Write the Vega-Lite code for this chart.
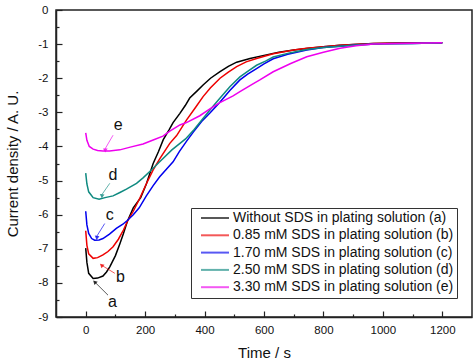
{
  "$schema": "https://vega.github.io/schema/vega-lite/v6.json",
  "width": 416,
  "height": 307,
  "autosize": {"type": "none"},
  "padding": {"left": 56, "top": 10, "right": 2, "bottom": 46},
  "background": "white",
  "config": {
    "font": "Liberation Sans",
    "view": {"stroke": "#222", "strokeWidth": 1.5},
    "axis": {
      "domainColor": "#222", "domainWidth": 1.5, "tickColor": "#222", "tickWidth": 1.2,
      "labelFont": "Liberation Sans", "labelFontSize": 11.5, "labelColor": "#111",
      "titleFont": "Liberation Sans", "titleFontSize": 15, "titleFontWeight": "normal", "titleColor": "#111",
      "grid": false, "labelOverlap": false, "labelFlush": false
    }
  },
  "resolve": {"axis": {"x": "independent", "y": "independent"}},
  "datasets": {
    "names": [
      {"s": "a", "name": "Without SDS in plating solution (a)"},
      {"s": "b", "name": "0.85 mM SDS in plating solution (b)"},
      {"s": "c", "name": "1.70 mM SDS in plating solution (c)"},
      {"s": "d", "name": "2.50 mM SDS in plating solution (d)"},
      {"s": "e", "name": "3.30 mM SDS in plating solution (e)"}
    ],
    "arrows": [
      {"s": "a", "tt": 75, "ty": -8.36, "ht": 30, "hy": -7.97, "lt": 90, "ly": -8.55},
      {"s": "b", "tt": 98, "ty": -7.72, "ht": 53, "hy": -7.48, "lt": 117, "ly": -7.83},
      {"s": "c", "tt": 64, "ty": -6.26, "ht": 36, "hy": -6.65, "lt": 81, "ly": -6.01},
      {"s": "d", "tt": 81, "ty": -5.08, "ht": 53, "hy": -5.43, "lt": 92, "ly": -4.84},
      {"s": "e", "tt": 92, "ty": -3.67, "ht": 64, "hy": -4.09, "lt": 109, "ly": -3.37}
    ],
    "curves": [
      {"s":"a","t":0,"v":-6.98},{"s":"a","t":4,"v":-7.4},{"s":"a","t":10,"v":-7.72},{"s":"a","t":25,"v":-7.87},{"s":"a","t":40,"v":-7.86},{"s":"a","t":58,"v":-7.8},{"s":"a","t":70,"v":-7.68},{"s":"a","t":81,"v":-7.53},{"s":"a","t":100,"v":-7.2},{"s":"a","t":115,"v":-6.85},{"s":"a","t":127,"v":-6.55},{"s":"a","t":140,"v":-6.2},{"s":"a","t":160,"v":-5.8},{"s":"a","t":185,"v":-5.5},{"s":"a","t":204,"v":-5.1},{"s":"a","t":227,"v":-4.5},{"s":"a","t":245,"v":-4.15},{"s":"a","t":261,"v":-3.8},{"s":"a","t":280,"v":-3.52},{"s":"a","t":294,"v":-3.3},{"s":"a","t":317,"v":-3.03},{"s":"a","t":335,"v":-2.8},{"s":"a","t":350,"v":-2.58},{"s":"a","t":375,"v":-2.37},{"s":"a","t":395,"v":-2.2},{"s":"a","t":420,"v":-2.0},{"s":"a","t":452,"v":-1.81},{"s":"a","t":480,"v":-1.65},{"s":"a","t":508,"v":-1.53},{"s":"a","t":553,"v":-1.42},{"s":"a","t":600,"v":-1.33},{"s":"a","t":650,"v":-1.24},{"s":"a","t":700,"v":-1.17},{"s":"a","t":750,"v":-1.12},{"s":"a","t":800,"v":-1.08},{"s":"a","t":856,"v":-1.03},{"s":"a","t":900,"v":-1.01},{"s":"a","t":968,"v":-0.98},{"s":"a","t":1050,"v":-0.97},{"s":"a","t":1200,"v":-0.96},
      {"s":"b","t":0,"v":-6.47},{"s":"b","t":4,"v":-6.9},{"s":"b","t":10,"v":-7.15},{"s":"b","t":25,"v":-7.28},{"s":"b","t":40,"v":-7.26},{"s":"b","t":58,"v":-7.18},{"s":"b","t":75,"v":-7.08},{"s":"b","t":92,"v":-6.94},{"s":"b","t":110,"v":-6.72},{"s":"b","t":127,"v":-6.45},{"s":"b","t":140,"v":-6.2},{"s":"b","t":160,"v":-5.9},{"s":"b","t":182,"v":-5.52},{"s":"b","t":205,"v":-5.08},{"s":"b","t":227,"v":-4.69},{"s":"b","t":250,"v":-4.35},{"s":"b","t":283,"v":-3.91},{"s":"b","t":306,"v":-3.68},{"s":"b","t":339,"v":-3.23},{"s":"b","t":370,"v":-2.85},{"s":"b","t":395,"v":-2.54},{"s":"b","t":420,"v":-2.28},{"s":"b","t":452,"v":-2.0},{"s":"b","t":480,"v":-1.82},{"s":"b","t":508,"v":-1.66},{"s":"b","t":540,"v":-1.52},{"s":"b","t":575,"v":-1.42},{"s":"b","t":631,"v":-1.28},{"s":"b","t":700,"v":-1.17},{"s":"b","t":744,"v":-1.12},{"s":"b","t":800,"v":-1.08},{"s":"b","t":856,"v":-1.03},{"s":"b","t":968,"v":-0.98},{"s":"b","t":1100,"v":-0.97},{"s":"b","t":1200,"v":-0.96},
      {"s":"c","t":0,"v":-5.9},{"s":"c","t":4,"v":-6.3},{"s":"c","t":10,"v":-6.55},{"s":"c","t":20,"v":-6.7},{"s":"c","t":30,"v":-6.75},{"s":"c","t":45,"v":-6.74},{"s":"c","t":58,"v":-6.7},{"s":"c","t":80,"v":-6.57},{"s":"c","t":103,"v":-6.4},{"s":"c","t":125,"v":-6.28},{"s":"c","t":140,"v":-6.17},{"s":"c","t":160,"v":-6.0},{"s":"c","t":180,"v":-5.8},{"s":"c","t":204,"v":-5.45},{"s":"c","t":227,"v":-5.15},{"s":"c","t":249,"v":-4.89},{"s":"c","t":270,"v":-4.68},{"s":"c","t":294,"v":-4.45},{"s":"c","t":315,"v":-4.15},{"s":"c","t":339,"v":-3.85},{"s":"c","t":362,"v":-3.58},{"s":"c","t":390,"v":-3.27},{"s":"c","t":418,"v":-3.02},{"s":"c","t":450,"v":-2.72},{"s":"c","t":485,"v":-2.36},{"s":"c","t":519,"v":-2.05},{"s":"c","t":545,"v":-1.88},{"s":"c","t":575,"v":-1.72},{"s":"c","t":600,"v":-1.58},{"s":"c","t":631,"v":-1.43},{"s":"c","t":680,"v":-1.3},{"s":"c","t":744,"v":-1.17},{"s":"c","t":800,"v":-1.1},{"s":"c","t":856,"v":-1.06},{"s":"c","t":920,"v":-1.02},{"s":"c","t":1000,"v":-0.99},{"s":"c","t":1100,"v":-0.98},{"s":"c","t":1200,"v":-0.96},
      {"s":"d","t":0,"v":-4.78},{"s":"d","t":4,"v":-5.1},{"s":"d","t":10,"v":-5.33},{"s":"d","t":25,"v":-5.5},{"s":"d","t":45,"v":-5.55},{"s":"d","t":65,"v":-5.5},{"s":"d","t":92,"v":-5.45},{"s":"d","t":115,"v":-5.35},{"s":"d","t":137,"v":-5.25},{"s":"d","t":171,"v":-5.08},{"s":"d","t":193,"v":-4.92},{"s":"d","t":221,"v":-4.69},{"s":"d","t":249,"v":-4.45},{"s":"d","t":290,"v":-4.1},{"s":"d","t":336,"v":-3.78},{"s":"d","t":365,"v":-3.5},{"s":"d","t":390,"v":-3.23},{"s":"d","t":418,"v":-2.93},{"s":"d","t":450,"v":-2.6},{"s":"d","t":485,"v":-2.25},{"s":"d","t":519,"v":-1.96},{"s":"d","t":545,"v":-1.8},{"s":"d","t":575,"v":-1.62},{"s":"d","t":605,"v":-1.5},{"s":"d","t":631,"v":-1.38},{"s":"d","t":690,"v":-1.25},{"s":"d","t":744,"v":-1.16},{"s":"d","t":800,"v":-1.1},{"s":"d","t":856,"v":-1.06},{"s":"d","t":920,"v":-1.02},{"s":"d","t":1000,"v":-0.99},{"s":"d","t":1100,"v":-0.98},{"s":"d","t":1200,"v":-0.96},
      {"s":"e","t":0,"v":-3.6},{"s":"e","t":4,"v":-3.82},{"s":"e","t":12,"v":-4.0},{"s":"e","t":25,"v":-4.08},{"s":"e","t":40,"v":-4.12},{"s":"e","t":58,"v":-4.13},{"s":"e","t":80,"v":-4.13},{"s":"e","t":115,"v":-4.1},{"s":"e","t":150,"v":-4.02},{"s":"e","t":193,"v":-3.93},{"s":"e","t":227,"v":-3.81},{"s":"e","t":260,"v":-3.7},{"s":"e","t":283,"v":-3.55},{"s":"e","t":317,"v":-3.37},{"s":"e","t":339,"v":-3.3},{"s":"e","t":384,"v":-3.1},{"s":"e","t":418,"v":-2.9},{"s":"e","t":450,"v":-2.72},{"s":"e","t":496,"v":-2.52},{"s":"e","t":519,"v":-2.39},{"s":"e","t":560,"v":-2.18},{"s":"e","t":586,"v":-2.05},{"s":"e","t":631,"v":-1.81},{"s":"e","t":690,"v":-1.57},{"s":"e","t":744,"v":-1.37},{"s":"e","t":800,"v":-1.24},{"s":"e","t":856,"v":-1.12},{"s":"e","t":910,"v":-1.05},{"s":"e","t":968,"v":-1.0},{"s":"e","t":1050,"v":-0.98},{"s":"e","t":1200,"v":-0.96}
    ]
  },
  "layer": [
    {
      "data": {"name": "curves"},
      "transform": [{"lookup": "s", "from": {"data": {"name": "names"}, "key": "s", "fields": ["name"]}}],
      "mark": {"type": "line", "strokeWidth": 1.5, "interpolate": "linear"},
      "encoding": {
        "x": {"field": "t", "type": "quantitative",
          "scale": {"domain": [-100, 1300], "nice": false, "zero": false},
          "axis": {"title": "Time / s", "orient": "bottom", "values": [0,200,400,600,800,1000,1200],
            "labelExpr": "'' + datum.value",
            "tickSize": -6, "labelOverlap": false,
            "labelPadding": 13, "titlePadding": 10}},
        "y": {"field": "v", "type": "quantitative",
          "scale": {"domain": [-9, 0], "nice": false, "zero": false},
          "axis": {"title": "Current density / A. U.", "orient": "left", "values": [-9,-8,-7,-6,-5,-4,-3,-2,-1,0],
            "labelExpr": "'' + datum.value",
            "tickSize": -6, "labelOverlap": false,
            "labelPadding": 14, "titlePadding": 17.5}},
        "color": {"field": "name", "type": "nominal",
          "scale": {"domain": ["Without SDS in plating solution (a)", "0.85 mM SDS in plating solution (b)", "1.70 mM SDS in plating solution (c)", "2.50 mM SDS in plating solution (d)", "3.30 mM SDS in plating solution (e)"],
            "range": ["#000000", "#ee0000", "#0000ee", "#0f8a80", "#ee00ee"]},
          "legend": {"title": null, "orient": "none", "legendX": 135, "legendY": 198,
            "symbolType": "M0,0H5.6", "symbolSize": 100, "symbolStrokeWidth": 2,
            "labelFont": "Liberation Sans", "labelFontSize": 14, "labelColor": "#111", "labelLimit": 320,
            "strokeColor": "#333", "fillColor": "white", "padding": 3, "rowPadding": 3.3, "labelOffset": 25}},
        "detail": {"field": "s"}
      }
    },
    {
      "data": {"name": "arrows"},
      "transform": [{"lookup": "s", "from": {"data": {"name": "names"}, "key": "s", "fields": ["name"]}}],
      "mark": {"type": "rule", "strokeWidth": 1, "opacity": 0.65},
      "encoding": {
        "x": {"field": "tt", "type": "quantitative", "axis": null},
        "y": {"field": "ty", "type": "quantitative", "axis": null},
        "x2": {"field": "ht"},
        "y2": {"field": "hy"},
        "color": {"field": "name", "type": "nominal"}
      }
    },
    {
      "data": {"name": "arrows"},
      "transform": [{"lookup": "s", "from": {"data": {"name": "names"}, "key": "s", "fields": ["name"]}}],
      "mark": {"type": "point", "shape": "triangle-up", "filled": true, "size": 22, "opacity": 0.8},
      "encoding": {
        "x": {"field": "ht", "type": "quantitative", "axis": null},
        "y": {"field": "hy", "type": "quantitative", "axis": null},
        "angle": {"field": "s", "type": "nominal", "scale": {"domain": ["a", "b", "c", "d", "e"], "range": [315, 301, 210, 215, 210]}, "legend": null},
        "color": {"field": "name", "type": "nominal"}
      }
    },
    {
      "data": {"name": "arrows"},
      "mark": {"type": "text", "fontSize": 16, "font": "Liberation Sans", "color": "#111", "align": "center", "baseline": "middle"},
      "encoding": {
        "x": {"field": "lt", "type": "quantitative",
          "axis": {"orient": "bottom", "values": [100,300,500,700,900,1100], "labels": false, "domain": false, "title": null, "tickSize": -3}},
        "y": {"field": "ly", "type": "quantitative",
          "axis": {"orient": "left", "values": [-8.5,-7.5,-6.5,-5.5,-4.5,-3.5,-2.5,-1.5,-0.5], "labels": false, "domain": false, "title": null, "tickSize": -3}},
        "text": {"field": "s", "type": "nominal"}
      }
    }
  ]
}
